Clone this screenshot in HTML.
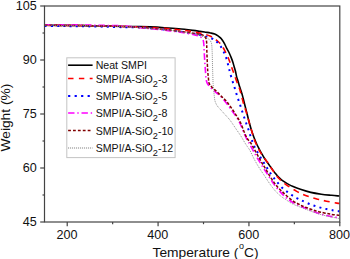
<!DOCTYPE html>
<html><head><meta charset="utf-8"><style>
html,body{margin:0;padding:0;background:#fff;width:350px;height:259px;overflow:hidden}
svg{display:block;font-family:"Liberation Sans",sans-serif}
</style></head><body>
<svg width="350" height="259" viewBox="0 0 350 259">
<g fill="none" stroke-linecap="butt" stroke-linejoin="round">
<path d="M44.80,25.30 C48.00,25.32 57.47,25.35 64.00,25.40 C70.53,25.45 77.33,25.50 84.00,25.60 C90.67,25.70 97.33,25.85 104.00,26.00 C110.67,26.15 118.00,26.40 124.00,26.50 C130.00,26.60 135.67,26.53 140.00,26.60 C144.33,26.67 145.95,26.72 150.00,26.90 C154.05,27.08 159.53,27.38 164.30,27.70 C169.07,28.02 173.83,28.35 178.60,28.80 C183.37,29.25 189.33,29.97 192.90,30.40 C196.47,30.83 197.90,31.10 200.00,31.40 C202.10,31.70 203.75,31.93 205.50,32.20 C207.25,32.47 208.97,32.70 210.50,33.00 C212.03,33.30 213.45,33.53 214.70,34.00 C215.95,34.47 217.03,35.15 218.00,35.80 C218.97,36.45 219.73,37.12 220.50,37.90 C221.27,38.68 221.92,39.52 222.60,40.50 C223.28,41.48 223.93,42.53 224.60,43.80 C225.27,45.07 225.87,46.65 226.60,48.10 C227.33,49.55 228.25,50.95 229.00,52.50 C229.75,54.05 230.47,55.82 231.10,57.40 C231.73,58.98 232.30,60.48 232.80,62.00 C233.30,63.52 233.67,65.00 234.10,66.50 C234.53,68.00 234.98,69.32 235.40,71.00 C235.82,72.68 236.17,74.93 236.60,76.60 C237.03,78.27 237.53,79.45 238.00,81.00 C238.47,82.55 238.92,84.32 239.40,85.90 C239.88,87.48 240.42,88.98 240.90,90.50 C241.38,92.02 241.83,93.33 242.30,95.00 C242.77,96.67 243.22,98.58 243.70,100.50 C244.18,102.42 244.68,104.45 245.20,106.50 C245.72,108.55 246.28,110.75 246.80,112.80 C247.32,114.85 247.80,116.85 248.30,118.80 C248.80,120.75 249.28,122.63 249.80,124.50 C250.32,126.37 250.87,128.28 251.40,130.00 C251.93,131.72 252.47,133.30 253.00,134.80 C253.53,136.30 253.95,137.38 254.60,139.00 C255.25,140.62 256.07,142.70 256.90,144.50 C257.73,146.30 258.75,148.18 259.60,149.80 C260.45,151.42 261.20,152.80 262.00,154.20 C262.80,155.60 263.58,156.92 264.40,158.20 C265.22,159.48 266.03,160.67 266.90,161.90 C267.77,163.13 268.68,164.35 269.60,165.60 C270.52,166.85 271.50,168.18 272.40,169.40 C273.30,170.62 274.07,171.70 275.00,172.90 C275.93,174.10 276.92,175.45 278.00,176.60 C279.08,177.75 280.28,178.83 281.50,179.80 C282.72,180.77 284.05,181.60 285.30,182.40 C286.55,183.20 287.80,183.95 289.00,184.60 C290.20,185.25 290.60,185.52 292.50,186.30 C294.40,187.08 297.35,188.28 300.40,189.30 C303.45,190.32 307.32,191.58 310.80,192.40 C314.28,193.22 317.82,193.72 321.30,194.20 C324.78,194.68 328.67,195.00 331.70,195.30 C334.73,195.60 338.20,195.88 339.50,196.00" stroke="#000" stroke-width="1.6"/>
<path d="M44.80,25.30 C48.00,25.32 57.47,25.35 64.00,25.40 C70.53,25.45 77.33,25.50 84.00,25.60 C90.67,25.70 97.33,25.85 104.00,26.00 C110.67,26.15 118.00,26.33 124.00,26.50 C130.00,26.67 135.67,26.85 140.00,27.00 C144.33,27.15 145.95,27.17 150.00,27.40 C154.05,27.63 159.53,28.00 164.30,28.40 C169.07,28.80 174.32,29.33 178.60,29.80 C182.88,30.27 186.30,30.60 190.00,31.20 C193.70,31.80 197.47,32.60 200.80,33.40 C204.13,34.20 207.68,35.07 210.00,36.00 C212.32,36.93 213.45,38.17 214.70,39.00 C215.95,39.83 216.58,40.23 217.50,41.00 C218.42,41.77 219.25,42.47 220.20,43.60 C221.15,44.73 222.25,46.27 223.20,47.80 C224.15,49.33 225.05,51.10 225.90,52.80 C226.75,54.50 227.62,56.38 228.30,58.00 C228.98,59.62 229.48,61.08 230.00,62.50 C230.52,63.92 230.90,65.08 231.40,66.50 C231.90,67.92 232.47,69.52 233.00,71.00 C233.53,72.48 234.00,73.70 234.60,75.40 C235.20,77.10 235.88,79.27 236.60,81.20 C237.32,83.13 238.25,85.20 238.90,87.00 C239.55,88.80 240.03,90.42 240.50,92.00 C240.97,93.58 241.23,94.72 241.70,96.50 C242.17,98.28 242.78,100.87 243.30,102.70 C243.82,104.53 244.28,105.87 244.80,107.50 C245.32,109.13 245.88,110.75 246.40,112.50 C246.92,114.25 247.37,116.08 247.90,118.00 C248.43,119.92 249.02,122.00 249.60,124.00 C250.18,126.00 250.80,128.00 251.40,130.00 C252.00,132.00 252.60,134.08 253.20,136.00 C253.80,137.92 254.25,139.62 255.00,141.50 C255.75,143.38 256.77,145.43 257.70,147.30 C258.63,149.17 259.48,150.87 260.60,152.70 C261.72,154.53 263.23,156.70 264.40,158.30 C265.57,159.90 266.25,160.35 267.60,162.30 C268.95,164.25 270.65,167.33 272.50,170.00 C274.35,172.67 276.40,175.83 278.70,178.30 C281.00,180.77 283.37,182.67 286.30,184.80 C289.23,186.93 293.08,189.33 296.30,191.10 C299.52,192.87 302.32,194.13 305.60,195.40 C308.88,196.67 312.52,197.73 316.00,198.70 C319.48,199.67 323.02,200.47 326.50,201.20 C329.98,201.93 334.73,202.73 336.90,203.10 C339.07,203.47 339.07,203.35 339.50,203.40" stroke="#ff0000" stroke-width="1.6" stroke-dasharray="6 4.8"/>
<path d="M44.80,26.00 C48.00,26.02 57.47,26.05 64.00,26.10 C70.53,26.15 77.33,26.20 84.00,26.30 C90.67,26.40 97.33,26.55 104.00,26.70 C110.67,26.85 118.00,27.08 124.00,27.20 C130.00,27.32 135.67,27.23 140.00,27.40 C144.33,27.57 145.95,27.83 150.00,28.20 C154.05,28.57 159.53,29.07 164.30,29.60 C169.07,30.13 173.83,30.73 178.60,31.40 C183.37,32.07 189.33,33.00 192.90,33.60 C196.47,34.20 197.65,34.47 200.00,35.00 C202.35,35.53 205.03,36.22 207.00,36.80 C208.97,37.38 210.55,37.97 211.80,38.50 C213.05,39.03 213.68,39.47 214.50,40.00 C215.32,40.53 215.92,40.95 216.70,41.70 C217.48,42.45 218.42,43.53 219.20,44.50 C219.98,45.47 220.77,46.50 221.40,47.50 C222.03,48.50 222.52,49.53 223.00,50.50 C223.48,51.47 223.87,52.35 224.30,53.30 C224.73,54.25 225.22,55.23 225.60,56.20 C225.98,57.17 226.22,57.80 226.60,59.10 C226.98,60.40 227.52,62.52 227.90,64.00 C228.28,65.48 228.57,66.67 228.90,68.00 C229.23,69.33 229.45,70.28 229.90,72.00 C230.35,73.72 230.97,76.18 231.60,78.30 C232.23,80.42 233.03,82.58 233.70,84.70 C234.37,86.82 234.95,88.87 235.60,91.00 C236.25,93.13 236.90,95.35 237.60,97.50 C238.30,99.65 239.12,101.83 239.80,103.90 C240.48,105.97 241.02,107.80 241.70,109.90 C242.38,112.00 243.13,114.23 243.90,116.50 C244.67,118.77 245.53,121.28 246.30,123.50 C247.07,125.72 247.80,127.72 248.50,129.80 C249.20,131.88 249.82,133.93 250.50,136.00 C251.18,138.07 251.80,140.13 252.60,142.20 C253.40,144.27 254.27,146.35 255.30,148.40 C256.33,150.45 257.63,152.52 258.80,154.50 C259.97,156.48 261.13,158.42 262.30,160.30 C263.47,162.18 264.67,163.98 265.80,165.80 C266.93,167.62 267.88,169.35 269.10,171.20 C270.32,173.05 271.75,175.07 273.10,176.90 C274.45,178.73 275.73,180.43 277.20,182.20 C278.67,183.97 280.28,185.93 281.90,187.50 C283.52,189.07 285.23,190.32 286.90,191.60 C288.57,192.88 290.20,194.08 291.90,195.20 C293.60,196.32 295.32,197.35 297.10,198.30 C298.88,199.25 300.02,199.75 302.60,200.90 C305.18,202.05 309.20,203.97 312.60,205.20 C316.00,206.43 319.53,207.43 323.00,208.30 C326.47,209.17 330.65,209.90 333.40,210.40 C336.15,210.90 338.48,211.15 339.50,211.30" stroke="#0000ff" stroke-width="2.0" stroke-dasharray="2 4.2"/>
<path d="M44.80,24.70 C48.00,24.72 57.47,24.75 64.00,24.80 C70.53,24.85 77.33,24.90 84.00,25.00 C90.67,25.10 97.33,25.25 104.00,25.40 C110.67,25.55 118.00,25.53 124.00,25.90 C130.00,26.27 135.67,27.15 140.00,27.60 C144.33,28.05 145.95,28.20 150.00,28.60 C154.05,29.00 159.53,29.43 164.30,30.00 C169.07,30.57 173.83,31.27 178.60,32.00 C183.37,32.73 189.40,33.65 192.90,34.40 C196.40,35.15 198.00,35.75 199.60,36.50 C201.20,37.25 201.82,37.82 202.50,38.90 C203.18,39.98 203.42,40.82 203.70,43.00 C203.98,45.18 203.98,48.33 204.20,52.00 C204.42,55.67 204.77,61.50 205.00,65.00 C205.23,68.50 205.43,70.67 205.60,73.00 C205.77,75.33 205.72,77.27 206.00,79.00 C206.28,80.73 206.60,82.05 207.30,83.40 C208.00,84.75 209.23,86.02 210.20,87.10 C211.17,88.18 212.05,88.95 213.10,89.90 C214.15,90.85 215.35,91.85 216.50,92.80 C217.65,93.75 218.83,94.47 220.00,95.60 C221.17,96.73 222.15,97.97 223.50,99.60 C224.85,101.23 226.57,103.37 228.10,105.40 C229.63,107.43 231.18,109.67 232.70,111.80 C234.22,113.93 235.90,116.08 237.20,118.20 C238.50,120.32 239.58,122.53 240.50,124.50 C241.42,126.47 241.90,128.10 242.70,130.00 C243.50,131.90 244.40,133.98 245.30,135.90 C246.20,137.82 247.25,139.90 248.10,141.50 C248.95,143.10 249.48,143.85 250.40,145.50 C251.32,147.15 252.50,149.40 253.60,151.40 C254.70,153.40 255.88,155.58 257.00,157.50 C258.12,159.42 259.20,161.10 260.30,162.90 C261.40,164.70 262.48,166.53 263.60,168.30 C264.72,170.07 265.88,171.77 267.00,173.50 C268.12,175.23 269.22,177.02 270.30,178.70 C271.38,180.38 272.38,182.02 273.50,183.60 C274.62,185.18 275.83,186.78 277.00,188.20 C278.17,189.62 279.33,190.85 280.50,192.10 C281.67,193.35 282.83,194.60 284.00,195.70 C285.17,196.80 286.17,197.65 287.50,198.70 C288.83,199.75 290.10,200.87 292.00,202.00 C293.90,203.13 296.60,204.43 298.90,205.50 C301.20,206.57 303.05,207.27 305.80,208.40 C308.55,209.53 312.53,211.25 315.40,212.30 C318.27,213.35 320.28,213.98 323.00,214.70 C325.72,215.42 328.95,216.08 331.70,216.60 C334.45,217.12 338.20,217.60 339.50,217.80" stroke="#ff00ff" stroke-width="1.6" stroke-dasharray="6.4 2.8 1.4 2.8"/>
<path d="M44.80,25.30 C48.00,25.32 57.47,25.35 64.00,25.40 C70.53,25.45 77.33,25.50 84.00,25.60 C90.67,25.70 97.33,25.85 104.00,26.00 C110.67,26.15 118.00,26.27 124.00,26.50 C130.00,26.73 135.67,27.12 140.00,27.40 C144.33,27.68 145.95,27.87 150.00,28.20 C154.05,28.53 159.53,28.90 164.30,29.40 C169.07,29.90 173.83,30.57 178.60,31.20 C183.37,31.83 189.00,32.60 192.90,33.20 C196.80,33.80 199.90,34.08 202.00,34.80 C204.10,35.52 204.73,36.30 205.50,37.50 C206.27,38.70 206.38,39.92 206.60,42.00 C206.82,44.08 206.67,46.17 206.80,50.00 C206.93,53.83 207.23,61.33 207.40,65.00 C207.57,68.67 207.63,69.87 207.80,72.00 C207.97,74.13 208.20,75.97 208.40,77.80 C208.60,79.63 208.52,81.55 209.00,83.00 C209.48,84.45 210.53,85.53 211.30,86.50 C212.07,87.47 212.65,87.92 213.60,88.80 C214.55,89.68 215.73,90.58 217.00,91.80 C218.27,93.02 219.73,94.63 221.20,96.10 C222.67,97.57 224.33,98.95 225.80,100.60 C227.27,102.25 228.63,104.13 230.00,106.00 C231.37,107.87 232.70,109.80 234.00,111.80 C235.30,113.80 236.65,116.05 237.80,118.00 C238.95,119.95 239.85,121.20 240.90,123.50 C241.95,125.80 243.05,129.30 244.10,131.80 C245.15,134.30 245.98,136.47 247.20,138.50 C248.42,140.53 250.13,142.05 251.40,144.00 C252.67,145.95 253.55,147.95 254.80,150.20 C256.05,152.45 257.65,155.28 258.90,157.50 C260.15,159.72 261.18,161.62 262.30,163.50 C263.42,165.38 264.28,166.62 265.60,168.80 C266.92,170.98 268.77,174.30 270.20,176.60 C271.63,178.90 272.85,180.73 274.20,182.60 C275.55,184.47 276.97,186.30 278.30,187.80 C279.63,189.30 281.00,190.43 282.20,191.60 C283.40,192.77 284.27,193.68 285.50,194.80 C286.73,195.92 288.15,197.13 289.60,198.30 C291.05,199.47 292.65,200.82 294.20,201.80 C295.75,202.78 297.55,203.50 298.90,204.20 C300.25,204.90 300.95,205.40 302.30,206.00 C303.65,206.60 305.22,207.13 307.00,207.80 C308.78,208.47 310.92,209.32 313.00,210.00 C315.08,210.68 316.67,211.22 319.50,211.90 C322.33,212.58 326.82,213.53 330.00,214.10 C333.18,214.67 337.02,215.08 338.60,215.30 C340.18,215.52 339.35,215.38 339.50,215.40" stroke="#800000" stroke-width="1.5" stroke-dasharray="3 1.6"/>
<path d="M44.80,25.30 C48.00,25.32 57.47,25.35 64.00,25.40 C70.53,25.45 77.33,25.50 84.00,25.60 C90.67,25.70 97.33,25.85 104.00,26.00 C110.67,26.15 118.00,26.25 124.00,26.50 C130.00,26.75 135.67,27.20 140.00,27.50 C144.33,27.80 145.95,27.95 150.00,28.30 C154.05,28.65 159.53,29.08 164.30,29.60 C169.07,30.12 173.83,30.70 178.60,31.40 C183.37,32.10 189.00,33.00 192.90,33.80 C196.80,34.60 199.53,35.45 202.00,36.20 C204.47,36.95 206.17,37.27 207.70,38.30 C209.23,39.33 210.47,40.45 211.20,42.40 C211.93,44.35 211.88,46.23 212.10,50.00 C212.32,53.77 212.38,60.83 212.50,65.00 C212.62,69.17 212.70,71.90 212.80,75.00 C212.90,78.10 212.97,81.20 213.10,83.60 C213.23,86.00 213.42,87.47 213.60,89.40 C213.78,91.33 213.98,93.33 214.20,95.20 C214.42,97.07 214.52,99.03 214.90,100.60 C215.28,102.17 215.90,103.47 216.50,104.60 C217.10,105.73 217.83,106.57 218.50,107.40 C219.17,108.23 219.48,108.48 220.50,109.60 C221.52,110.72 223.13,112.48 224.60,114.10 C226.07,115.72 227.95,117.65 229.30,119.30 C230.65,120.95 231.55,122.35 232.70,124.00 C233.85,125.65 234.98,127.42 236.20,129.20 C237.42,130.98 238.97,133.15 240.00,134.70 C241.03,136.25 241.60,137.17 242.40,138.50 C243.20,139.83 243.98,141.37 244.80,142.70 C245.62,144.03 246.47,145.25 247.30,146.50 C248.13,147.75 248.83,148.45 249.80,150.20 C250.77,151.95 251.97,154.78 253.10,157.00 C254.23,159.22 255.35,161.33 256.60,163.50 C257.85,165.67 259.27,167.93 260.60,170.00 C261.93,172.07 263.30,173.93 264.60,175.90 C265.90,177.87 267.08,179.87 268.40,181.80 C269.72,183.73 271.15,185.77 272.50,187.50 C273.85,189.23 275.08,190.73 276.50,192.20 C277.92,193.67 279.45,195.07 281.00,196.30 C282.55,197.53 283.77,198.28 285.80,199.60 C287.83,200.92 290.03,202.67 293.20,204.20 C296.37,205.73 301.17,207.38 304.80,208.80 C308.43,210.22 311.63,211.57 315.00,212.70 C318.37,213.83 320.92,214.62 325.00,215.60 C329.08,216.58 337.08,218.10 339.50,218.60" stroke="#909090" stroke-width="1.0" stroke-dasharray="1 1"/>
</g>
<rect x="66.8" y="57.8" width="108.3" height="99.8" fill="#fff" stroke="#c4c4c4" stroke-width="1"/>
<g font-size="10.6" fill="#111">
<line x1="68.1" y1="65.2" x2="92.6" y2="65.2" stroke="#000" stroke-width="1.6"/>
<text x="95.7" y="69.40">Neat SMPI</text>
<line x1="68.1" y1="78.4" x2="92.6" y2="78.4" stroke="#ff0000" stroke-width="1.5" stroke-dasharray="5.4 5.4"/>
<text x="95.7" y="82.60">SMPI/A-SiO<tspan font-size="9.2" dy="4">2</tspan><tspan dy="-4">-3</tspan></text>
<line x1="68.1" y1="96.0" x2="92.6" y2="96.0" stroke="#0000ff" stroke-width="1.9" stroke-dasharray="2.2 4.3"/>
<text x="95.7" y="100.20">SMPI/A-SiO<tspan font-size="9.2" dy="4">2</tspan><tspan dy="-4">-5</tspan></text>
<line x1="68.1" y1="112.9" x2="92.6" y2="112.9" stroke="#ff00ff" stroke-width="1.5" stroke-dasharray="6.4 2.8 1.4 2.8"/>
<text x="95.7" y="117.10">SMPI/A-SiO<tspan font-size="9.2" dy="4">2</tspan><tspan dy="-4">-8</tspan></text>
<line x1="68.1" y1="130.5" x2="92.6" y2="130.5" stroke="#800000" stroke-width="1.6" stroke-dasharray="2.8 2.1"/>
<text x="95.7" y="134.70">SMPI/A-SiO<tspan font-size="9.2" dy="4">2</tspan><tspan dy="-4">-10</tspan></text>
<line x1="68.1" y1="148.0" x2="92.6" y2="148.0" stroke="#777" stroke-width="1.0" stroke-dasharray="1 1"/>
<text x="95.7" y="152.20">SMPI/A-SiO<tspan font-size="9.2" dy="4">2</tspan><tspan dy="-4">-12</tspan></text>
</g>
<g stroke="#444" stroke-width="1.2" fill="none">
<rect x="44.5" y="6.0" width="295.30" height="216.00"/>
<line x1="40.2" y1="6.00" x2="44.5" y2="6.00"/>
<line x1="40.2" y1="60.00" x2="44.5" y2="60.00"/>
<line x1="40.2" y1="114.00" x2="44.5" y2="114.00"/>
<line x1="40.2" y1="168.00" x2="44.5" y2="168.00"/>
<line x1="40.2" y1="222.00" x2="44.5" y2="222.00"/>
<line x1="42.5" y1="33.00" x2="44.5" y2="33.00"/>
<line x1="42.5" y1="87.00" x2="44.5" y2="87.00"/>
<line x1="42.5" y1="141.00" x2="44.5" y2="141.00"/>
<line x1="42.5" y1="195.00" x2="44.5" y2="195.00"/>
<line x1="67.22" y1="222.0" x2="67.22" y2="226.2"/>
<line x1="158.08" y1="222.0" x2="158.08" y2="226.2"/>
<line x1="248.94" y1="222.0" x2="248.94" y2="226.2"/>
<line x1="339.80" y1="222.0" x2="339.80" y2="226.2"/>
<line x1="112.65" y1="222.0" x2="112.65" y2="224.2"/>
<line x1="203.51" y1="222.0" x2="203.51" y2="224.2"/>
<line x1="294.37" y1="222.0" x2="294.37" y2="224.2"/>
</g>
<g font-size="12" fill="#111">
<text transform="translate(36.7,10.00) scale(1.05,1)" text-anchor="end">105</text>
<text transform="translate(36.7,64.00) scale(1.05,1)" text-anchor="end">90</text>
<text transform="translate(36.7,118.00) scale(1.05,1)" text-anchor="end">75</text>
<text transform="translate(36.7,172.00) scale(1.05,1)" text-anchor="end">60</text>
<text transform="translate(36.7,226.00) scale(1.05,1)" text-anchor="end">45</text>
<text transform="translate(66.92,239.3) scale(1.05,1)" text-anchor="middle">200</text>
<text transform="translate(157.78,239.3) scale(1.05,1)" text-anchor="middle">400</text>
<text transform="translate(248.64,239.3) scale(1.05,1)" text-anchor="middle">600</text>
<text transform="translate(339.50,239.3) scale(1.05,1)" text-anchor="middle">800</text>
</g>
<text transform="translate(205.5,257) scale(1.062,1)" font-size="13" fill="#111" text-anchor="middle">Temperature (<tspan font-size="8.5" dx="0.6" dy="-7.8">o</tspan><tspan dy="7.8">C)</tspan></text>
<text transform="translate(10.0,117.6) rotate(-90) scale(1.06,1)" font-size="13" fill="#111" text-anchor="middle">Weight (%)</text>
</svg>
</body></html>
